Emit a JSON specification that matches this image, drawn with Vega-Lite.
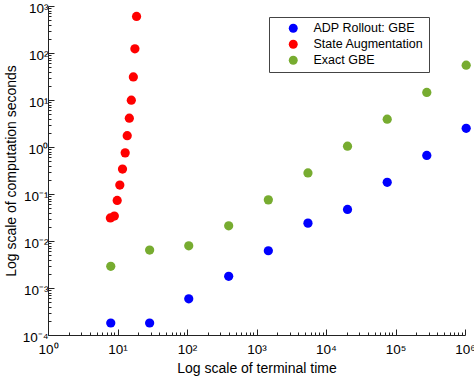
{
  "$schema": "https://vega.github.io/schema/vega-lite/v6.json",
  "width": 417,
  "height": 329,
  "autosize": "none",
  "padding": {"left": 48, "top": 6, "right": 9, "bottom": 44},
  "background": "white",
  "config": {
    "view": {"stroke": null},
    "font": "Liberation Sans",
    "axis": {"grid": false, "domainColor": "#222", "tickColor": "#222", "labelColor": "#000", "titleColor": "#000", "labelFont": "Liberation Sans", "titleFont": "Liberation Sans", "titleFontWeight": "normal"}
  },
  "data": {"values": [
    {"method": "ADP Rollout: GBE", "t": 8, "sec": 0.00018},
    {"method": "ADP Rollout: GBE", "t": 29, "sec": 0.00018},
    {"method": "ADP Rollout: GBE", "t": 106, "sec": 0.00059},
    {"method": "ADP Rollout: GBE", "t": 398, "sec": 0.00177},
    {"method": "ADP Rollout: GBE", "t": 1480, "sec": 0.0062},
    {"method": "ADP Rollout: GBE", "t": 5500, "sec": 0.024},
    {"method": "ADP Rollout: GBE", "t": 20400, "sec": 0.047},
    {"method": "ADP Rollout: GBE", "t": 76000, "sec": 0.177},
    {"method": "ADP Rollout: GBE", "t": 282000, "sec": 0.66},
    {"method": "ADP Rollout: GBE", "t": 1040000, "sec": 2.5},
    {"method": "State Augmentation", "t": 7.9, "sec": 0.031},
    {"method": "State Augmentation", "t": 9, "sec": 0.034},
    {"method": "State Augmentation", "t": 9.9, "sec": 0.073},
    {"method": "State Augmentation", "t": 10.8, "sec": 0.155},
    {"method": "State Augmentation", "t": 11.8, "sec": 0.34},
    {"method": "State Augmentation", "t": 12.9, "sec": 0.75},
    {"method": "State Augmentation", "t": 13.8, "sec": 1.74},
    {"method": "State Augmentation", "t": 14.8, "sec": 4.1},
    {"method": "State Augmentation", "t": 15.8, "sec": 9.9},
    {"method": "State Augmentation", "t": 16.9, "sec": 31},
    {"method": "State Augmentation", "t": 17.8, "sec": 123},
    {"method": "State Augmentation", "t": 18.8, "sec": 600},
    {"method": "Exact GBE", "t": 8, "sec": 0.0029},
    {"method": "Exact GBE", "t": 29, "sec": 0.0064},
    {"method": "Exact GBE", "t": 106, "sec": 0.0079},
    {"method": "Exact GBE", "t": 398, "sec": 0.021},
    {"method": "Exact GBE", "t": 1480, "sec": 0.075},
    {"method": "Exact GBE", "t": 5500, "sec": 0.28},
    {"method": "Exact GBE", "t": 20400, "sec": 1.04},
    {"method": "Exact GBE", "t": 76000, "sec": 3.9},
    {"method": "Exact GBE", "t": 282000, "sec": 14.5},
    {"method": "Exact GBE", "t": 1040000, "sec": 55}
  ]},
  "mark": {"type": "point", "filled": true, "opacity": 1, "size": 85, "shape": "circle"},
  "encoding": {
    "x": {
      "field": "t", "type": "quantitative",
      "scale": {"type": "log", "domain": [1, 1000000], "nice": false},
      "axis": {
        "title": "Log scale of terminal time",
        "titleFontSize": 14, "titlePadding": 3,
        "labelFontSize": 13.5, "labelPadding": 13,
        "values": [1,2,3,4,5,6,7,8,9,10,20,30,40,50,60,70,80,90,100,200,300,400,500,600,700,800,900,1000,2000,3000,4000,5000,6000,7000,8000,9000,10000,20000,30000,40000,50000,60000,70000,80000,90000,100000,200000,300000,400000,500000,600000,700000,800000,900000,1000000],
        "labelExpr": "abs(log(datum.value)/LN10 - round(log(datum.value)/LN10)) < 1e-6 ? '10' + (round(log(datum.value)/LN10) < 0 ? '⁻' : '') + ['⁰','¹','²','³','⁴','⁵','⁶'][abs(round(log(datum.value)/LN10))] : ''",
        "tickSize": {"condition": {"test": "abs(log(datum.value)/LN10 - round(log(datum.value)/LN10)) < 1e-6", "value": -6}, "value": -3},
        "labelOverlap": false, "labelFlush": false
      }
    },
    "y": {
      "field": "sec", "type": "quantitative",
      "scale": {"type": "log", "domain": [0.0001, 1000], "nice": false},
      "axis": {
        "title": "Log scale of computation seconds",
        "titleFontSize": 14, "titlePadding": 4,
        "labelFontSize": 13.5, "labelPadding": 6, "labelOffset": 2,
        "values": [0.0001,0.0002,0.0003,0.0004,0.0005,0.0006,0.0007,0.0008,0.0009,0.001,0.002,0.003,0.004,0.005,0.006,0.007,0.008,0.009,0.01,0.02,0.03,0.04,0.05,0.06,0.07,0.08,0.09,0.1,0.2,0.3,0.4,0.5,0.6,0.7,0.8,0.9,1,2,3,4,5,6,7,8,9,10,20,30,40,50,60,70,80,90,100,200,300,400,500,600,700,800,900,1000],
        "labelExpr": "abs(log(datum.value)/LN10 - round(log(datum.value)/LN10)) < 1e-6 ? '10' + (round(log(datum.value)/LN10) < 0 ? '⁻' : '') + ['⁰','¹','²','³','⁴','⁵','⁶'][abs(round(log(datum.value)/LN10))] : ''",
        "tickSize": {"condition": {"test": "abs(log(datum.value)/LN10 - round(log(datum.value)/LN10)) < 1e-6", "value": -6}, "value": -3},
        "labelOverlap": false, "labelFlush": false
      }
    },
    "color": {
      "field": "method", "type": "nominal",
      "scale": {"domain": ["ADP Rollout: GBE", "State Augmentation", "Exact GBE"], "range": ["#0000ff", "#ff0000", "#77ac30"]},
      "legend": {
        "title": null, "orient": "none", "legendX": 221, "legendY": 11,
        "direction": "vertical",
        "strokeColor": "#444", "fillColor": "white", "padding": 5,
        "labelFontSize": 12.5, "labelColor": "#000", "labelFont": "Liberation Sans",
        "symbolSize": 80, "symbolType": "circle", "symbolStrokeWidth": 0,
        "symbolOffset": 13, "labelOffset": 14, "rowPadding": 3,
        "columnPadding": 10
      }
    }
  }
}
